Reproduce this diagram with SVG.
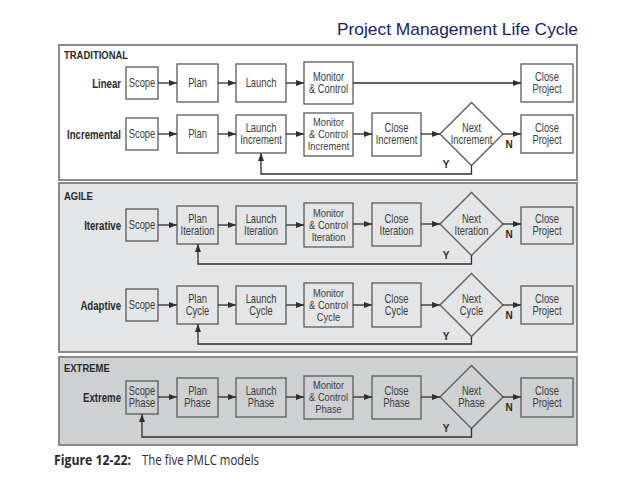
<svg xmlns="http://www.w3.org/2000/svg" width="638" height="479" viewBox="0 0 638 479">
<defs>
<marker id="ah" viewBox="0 0 8 6" refX="8" refY="3" markerWidth="8" markerHeight="6" markerUnits="userSpaceOnUse" orient="auto">
<path d="M0,0 L8,3 L0,6 Z" fill="#2e2e2e"/>
</marker>
</defs>
<style>
.pan{stroke:#8a8a8a;stroke-width:2}
.bx{stroke:#5a5a5a;stroke-width:1.3}
.t{font-family:"Liberation Sans",Arial,sans-serif;font-size:12px;fill:#3c3c3c;text-anchor:middle}
.t3{font-family:"Liberation Sans",Arial,sans-serif;font-size:10.5px;fill:#3c3c3c;text-anchor:middle}
.rl{font-family:"Liberation Sans",Arial,sans-serif;font-size:12.5px;font-weight:bold;fill:#2a2a2a;text-anchor:end}
.pl{font-family:"Liberation Sans",Arial,sans-serif;font-size:11px;font-weight:bold;fill:#2a2a2a}
.yn{font-family:"Liberation Sans",Arial,sans-serif;font-size:10px;font-weight:bold;fill:#2a2a2a;text-anchor:middle}
.c{fill:none;stroke:#2e2e2e;stroke-width:1.3;marker-end:url(#ah)}
</style>
<rect width="638" height="479" fill="#ffffff"/>
<text x="578" y="35" font-family="Liberation Sans,Arial,sans-serif" font-size="17" fill="#15236b" text-anchor="end" textLength="241" lengthAdjust="spacingAndGlyphs">Project Management Life Cycle</text>

<g id="panels">
<rect class="pan" x="59" y="45" width="518" height="135" fill="#ffffff"/>
<rect class="pan" x="59" y="183" width="518" height="169" fill="#e4e5e7"/>
<rect class="pan" x="59" y="357" width="518" height="88" fill="#cfd0d2"/>
<text class="pl" transform="translate(64,59) scale(0.86,1)">TRADITIONAL</text>
<text class="pl" transform="translate(64,200) scale(0.86,1)">AGILE</text>
<text class="pl" transform="translate(64,372) scale(0.86,1)">EXTREME</text>
</g>

<g id="rowlabels">
<text class="rl" transform="translate(121,88) scale(0.77,1)">Linear</text>
<text class="rl" transform="translate(121,139) scale(0.77,1)">Incremental</text>
<text class="rl" transform="translate(121,230) scale(0.77,1)">Iterative</text>
<text class="rl" transform="translate(121,310) scale(0.77,1)">Adaptive</text>
<text class="rl" transform="translate(121,402) scale(0.77,1)">Extreme</text>
</g>

<!-- Linear -->
<g id="lin-scope"><rect class="bx" x="126" y="67" width="32" height="32" fill="#fff"/><text class="t" transform="translate(142,87) scale(0.78,1)">Scope</text></g>
<g id="lin-plan"><rect class="bx" x="177" y="64" width="41" height="38" fill="#fff"/><text class="t" transform="translate(197.5,87) scale(0.78,1)">Plan</text></g>
<g id="lin-launch"><rect class="bx" x="236" y="64" width="50" height="38" fill="#fff"/><text class="t" transform="translate(261,87) scale(0.78,1)">Launch</text></g>
<g id="lin-monitor"><rect class="bx" x="304" y="62" width="49" height="42" fill="#fff"/><text class="t" transform="translate(328.5,0) scale(0.78,1)"><tspan x="0" y="81">Monitor</tspan><tspan x="0" y="93">&amp; Control</tspan></text></g>
<g id="lin-close"><rect class="bx" x="521" y="64" width="52" height="38" fill="#fff"/><text class="t" transform="translate(547,0) scale(0.78,1)"><tspan x="0" y="81">Close</tspan><tspan x="0" y="93">Project</tspan></text></g>

<!-- Incremental -->
<g id="inc-scope"><rect class="bx" x="126" y="118" width="32" height="32" fill="#fff"/><text class="t" transform="translate(142,138) scale(0.78,1)">Scope</text></g>
<g id="inc-plan"><rect class="bx" x="177" y="115" width="41" height="38" fill="#fff"/><text class="t" transform="translate(197.5,138) scale(0.78,1)">Plan</text></g>
<g id="inc-launch"><rect class="bx" x="236" y="115" width="50" height="38" fill="#fff"/><text class="t" transform="translate(261,0) scale(0.78,1)"><tspan x="0" y="132">Launch</tspan><tspan x="0" y="144">Increment</tspan></text></g>
<g id="inc-monitor"><rect class="bx" x="304" y="113" width="49" height="43" fill="#fff"/><text class="t3" transform="translate(328.5,0) scale(0.89,1)"><tspan x="0" y="126">Monitor</tspan><tspan x="0" y="138">&amp; Control</tspan><tspan x="0" y="150">Increment</tspan></text></g>
<g id="inc-closeinc"><rect class="bx" x="372" y="113" width="49" height="43" fill="#fff"/><text class="t" transform="translate(396.5,0) scale(0.78,1)"><tspan x="0" y="132">Close</tspan><tspan x="0" y="144">Increment</tspan></text></g>
<g id="inc-next"><polygon class="bx" points="440,134 471.5,102.5 503,134 471.5,165.5" fill="#fff"/><text class="t" transform="translate(471.5,0) scale(0.78,1)"><tspan x="0" y="132">Next</tspan><tspan x="0" y="144">Increment</tspan></text></g>
<g id="inc-close"><rect class="bx" x="521" y="115" width="52" height="38" fill="#fff"/><text class="t" transform="translate(547,0) scale(0.78,1)"><tspan x="0" y="132">Close</tspan><tspan x="0" y="144">Project</tspan></text></g>

<!-- Iterative -->
<g id="it-scope"><rect class="bx" x="126" y="209" width="32" height="32" fill="#e4e5e7"/><text class="t" transform="translate(142,229) scale(0.78,1)">Scope</text></g>
<g id="it-plan"><rect class="bx" x="177" y="206" width="41" height="38" fill="#e4e5e7"/><text class="t" transform="translate(197.5,0) scale(0.78,1)"><tspan x="0" y="223">Plan</tspan><tspan x="0" y="235">Iteration</tspan></text></g>
<g id="it-launch"><rect class="bx" x="236" y="206" width="50" height="38" fill="#e4e5e7"/><text class="t" transform="translate(261,0) scale(0.78,1)"><tspan x="0" y="223">Launch</tspan><tspan x="0" y="235">Iteration</tspan></text></g>
<g id="it-monitor"><rect class="bx" x="304" y="203" width="49" height="44" fill="#e4e5e7"/><text class="t3" transform="translate(328.5,0) scale(0.89,1)"><tspan x="0" y="217">Monitor</tspan><tspan x="0" y="229">&amp; Control</tspan><tspan x="0" y="241">Iteration</tspan></text></g>
<g id="it-closeit"><rect class="bx" x="372" y="203" width="49" height="43" fill="#e4e5e7"/><text class="t" transform="translate(396.5,0) scale(0.78,1)"><tspan x="0" y="223">Close</tspan><tspan x="0" y="235">Iteration</tspan></text></g>
<g id="it-next"><polygon class="bx" points="440,224 471.5,192.5 503,224 471.5,255.5" fill="#e4e5e7"/><text class="t" transform="translate(471.5,0) scale(0.78,1)"><tspan x="0" y="223">Next</tspan><tspan x="0" y="235">Iteration</tspan></text></g>
<g id="it-close"><rect class="bx" x="521" y="207" width="52" height="37" fill="#e4e5e7"/><text class="t" transform="translate(547,0) scale(0.78,1)"><tspan x="0" y="223">Close</tspan><tspan x="0" y="235">Project</tspan></text></g>

<!-- Adaptive -->
<g id="ad-scope"><rect class="bx" x="126" y="289" width="32" height="32" fill="#e4e5e7"/><text class="t" transform="translate(142,309) scale(0.78,1)">Scope</text></g>
<g id="ad-plan"><rect class="bx" x="177" y="286" width="41" height="38" fill="#e4e5e7"/><text class="t" transform="translate(197.5,0) scale(0.78,1)"><tspan x="0" y="303">Plan</tspan><tspan x="0" y="315">Cycle</tspan></text></g>
<g id="ad-launch"><rect class="bx" x="236" y="286" width="50" height="38" fill="#e4e5e7"/><text class="t" transform="translate(261,0) scale(0.78,1)"><tspan x="0" y="303">Launch</tspan><tspan x="0" y="315">Cycle</tspan></text></g>
<g id="ad-monitor"><rect class="bx" x="304" y="283" width="49" height="44" fill="#e4e5e7"/><text class="t3" transform="translate(328.5,0) scale(0.89,1)"><tspan x="0" y="297">Monitor</tspan><tspan x="0" y="309">&amp; Control</tspan><tspan x="0" y="321">Cycle</tspan></text></g>
<g id="ad-closecy"><rect class="bx" x="372" y="283" width="49" height="44" fill="#e4e5e7"/><text class="t" transform="translate(396.5,0) scale(0.78,1)"><tspan x="0" y="303">Close</tspan><tspan x="0" y="315">Cycle</tspan></text></g>
<g id="ad-next"><polygon class="bx" points="440,305 471.5,273.5 503,305 471.5,336.5" fill="#e4e5e7"/><text class="t" transform="translate(471.5,0) scale(0.78,1)"><tspan x="0" y="303">Next</tspan><tspan x="0" y="315">Cycle</tspan></text></g>
<g id="ad-close"><rect class="bx" x="521" y="286" width="52" height="38" fill="#e4e5e7"/><text class="t" transform="translate(547,0) scale(0.78,1)"><tspan x="0" y="303">Close</tspan><tspan x="0" y="315">Project</tspan></text></g>

<!-- Extreme -->
<g id="ex-scope"><rect class="bx" x="126" y="381" width="32" height="33" fill="#cfd0d2"/><text class="t" transform="translate(142,0) scale(0.78,1)"><tspan x="0" y="395">Scope</tspan><tspan x="0" y="407">Phase</tspan></text></g>
<g id="ex-plan"><rect class="bx" x="177" y="378" width="41" height="39" fill="#cfd0d2"/><text class="t" transform="translate(197.5,0) scale(0.78,1)"><tspan x="0" y="395">Plan</tspan><tspan x="0" y="407">Phase</tspan></text></g>
<g id="ex-launch"><rect class="bx" x="236" y="378" width="50" height="39" fill="#cfd0d2"/><text class="t" transform="translate(261,0) scale(0.78,1)"><tspan x="0" y="395">Launch</tspan><tspan x="0" y="407">Phase</tspan></text></g>
<g id="ex-monitor"><rect class="bx" x="304" y="376" width="49" height="43" fill="#cfd0d2"/><text class="t3" transform="translate(328.5,0) scale(0.89,1)"><tspan x="0" y="389">Monitor</tspan><tspan x="0" y="401">&amp; Control</tspan><tspan x="0" y="413">Phase</tspan></text></g>
<g id="ex-closeph"><rect class="bx" x="372" y="376" width="49" height="43" fill="#cfd0d2"/><text class="t" transform="translate(396.5,0) scale(0.78,1)"><tspan x="0" y="395">Close</tspan><tspan x="0" y="407">Phase</tspan></text></g>
<g id="ex-next"><polygon class="bx" points="440,397 471.5,365.5 503,397 471.5,428.5" fill="#cfd0d2"/><text class="t" transform="translate(471.5,0) scale(0.78,1)"><tspan x="0" y="395">Next</tspan><tspan x="0" y="407">Phase</tspan></text></g>
<g id="ex-close"><rect class="bx" x="521" y="378" width="52" height="39" fill="#cfd0d2"/><text class="t" transform="translate(547,0) scale(0.78,1)"><tspan x="0" y="395">Close</tspan><tspan x="0" y="407">Project</tspan></text></g>

<g id="connectors">
<path class="c" d="M158,83 H177"/>
<path class="c" d="M218,83 H236"/>
<path class="c" d="M286,83 H304"/>
<path class="c" d="M353,83 H521"/>

<path class="c" d="M158,134 H177"/>
<path class="c" d="M218,134 H236"/>
<path class="c" d="M286,134 H304"/>
<path class="c" d="M353,134 H372"/>
<path class="c" d="M421,134 H440"/>
<path class="c" d="M503,134 H521"/>
<path class="c" d="M471.5,165.5 V174 H261 V153"/>

<path class="c" d="M158,225 H177"/>
<path class="c" d="M218,225 H236"/>
<path class="c" d="M286,225 H304"/>
<path class="c" d="M353,224 H372"/>
<path class="c" d="M421,224 H440"/>
<path class="c" d="M503,224 H521"/>
<path class="c" d="M471.5,255.5 V264 H198 V244"/>

<path class="c" d="M158,305 H177"/>
<path class="c" d="M218,305 H236"/>
<path class="c" d="M286,305 H304"/>
<path class="c" d="M353,305 H372"/>
<path class="c" d="M421,305 H440"/>
<path class="c" d="M503,305 H521"/>
<path class="c" d="M471.5,336.5 V344 H198 V324"/>

<path class="c" d="M158,397 H177"/>
<path class="c" d="M218,397 H236"/>
<path class="c" d="M286,397 H304"/>
<path class="c" d="M353,397 H372"/>
<path class="c" d="M421,397 H440"/>
<path class="c" d="M503,397 H521"/>
<path class="c" d="M471.5,428.5 V437 H142 V414"/>

<text class="yn" x="509" y="148">N</text>
<text class="yn" x="446" y="168">Y</text>
<text class="yn" x="509" y="238">N</text>
<text class="yn" x="446" y="259">Y</text>
<text class="yn" x="509" y="319">N</text>
<text class="yn" x="446" y="340">Y</text>
<text class="yn" x="509" y="411">N</text>
<text class="yn" x="446" y="432">Y</text>
</g>

<text x="54" y="465" font-family="Open Sans,Liberation Sans,sans-serif" font-size="14" font-weight="bold" fill="#2a2a2a" textLength="77" lengthAdjust="spacingAndGlyphs">Figure 12-22:</text>
<text x="142" y="465" font-family="Open Sans,Liberation Sans,sans-serif" font-size="14" fill="#2a2a2a" textLength="117" lengthAdjust="spacingAndGlyphs">The five PMLC models</text>
</svg>
